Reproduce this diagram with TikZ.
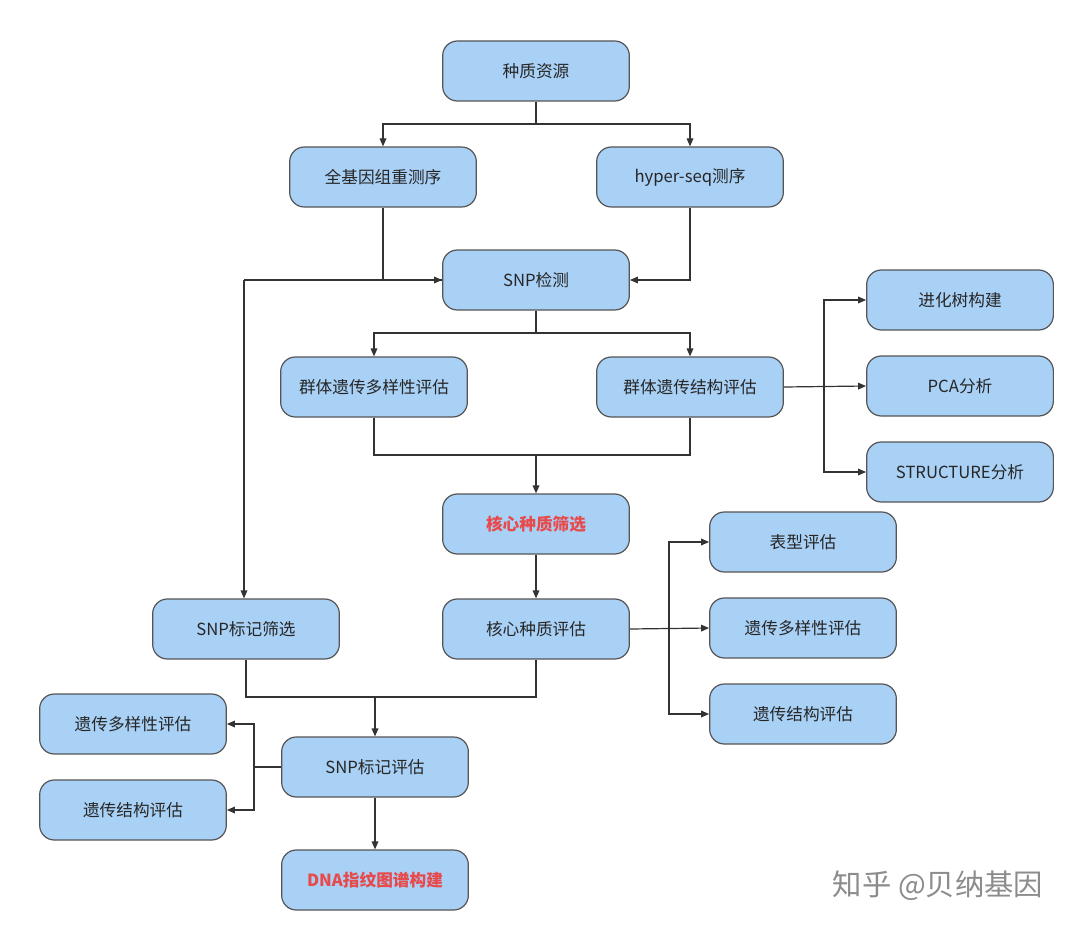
\documentclass[tikz,border=0pt]{standalone}
\usepackage{fontspec}
\setmainfont{Noto Sans CJK SC}
\usetikzlibrary{arrows.meta}
\definecolor{boxfill}{HTML}{A9D0F5}
\definecolor{boxline}{HTML}{555555}
\definecolor{redtxt}{HTML}{E8494A}
\begin{document}
\begin{tikzpicture}[x=0.75pt,y=-0.75pt,
  box/.style={draw=boxline,line width=0.9pt,fill=boxfill,rounded corners=11pt,minimum width=140pt,minimum height=45pt,inner sep=0pt,font=\fontsize{12.5}{14}\selectfont,text=black!85},
  hot/.style={text=redtxt,font=\fontsize{12.5}{14}\selectfont\bfseries},
  conn/.style={draw=black!80,line width=0.9pt},
  arr/.style={conn,-{Triangle[length=6pt,width=5pt]}}]
\useasboundingbox (0,0) rectangle (1080,938);
\fill[white] (0,0) rectangle (1080,938);
\node[box] (a) at (536,71) {种质资源};
\node[box] (b) at (383,177) {全基因组重测序};
\node[box] (c) at (690,177) {hyper-seq测序};
\node[box] (d) at (536,280) {SNP检测};
\node[box] (e) at (374,387) {群体遗传多样性评估};
\node[box] (f) at (690,387) {群体遗传结构评估};
\node[box] (g1) at (960,300) {进化树构建};
\node[box] (g2) at (960,386) {PCA分析};
\node[box] (g3) at (960,472) {STRUCTURE分析};
\node[box,hot] (h) at (536,524) {核心种质筛选};
\node[box] (i) at (536,629) {核心种质评估};
\node[box] (j1) at (803,542) {表型评估};
\node[box] (j2) at (803,628) {遗传多样性评估};
\node[box] (j3) at (803,714) {遗传结构评估};
\node[box] (k) at (246,629) {SNP标记筛选};
\node[box] (l) at (375,767) {SNP标记评估};
\node[box] (m1) at (133,724) {遗传多样性评估};
\node[box] (m2) at (133,810) {遗传结构评估};
\node[box,hot] (n) at (375,880) {DNA指纹图谱构建};
\node[text=black!45,font=\fontsize{22}{24}\selectfont] (w) at (938,886) {知乎 @贝纳基因};
% connectors
\coordinate (a1) at (536,124);
\draw[conn] (a.south) -- (a1);
\draw[arr] (a1) -| (b.north);
\draw[arr] (a1) -| (c.north);
\draw[arr] (b.south) |- (d.west);
\draw[arr] (c.south) |- (d.east);
\coordinate (s1) at (244,280);
\draw[conn] (s1) -- (d.west);
\draw[arr] (s1) -- (s1 |- k.north);
\coordinate (d1) at (536,333);
\draw[conn] (d.south) -- (d1);
\draw[arr] (d1) -| (e.north);
\draw[arr] (d1) -| (f.north);
\coordinate (f1) at (824,387);
\draw[arr] (f.east) -- (g2.west);
\draw[arr] (f1) |- (g1.west);
\draw[arr] (f1) |- (g3.west);
\coordinate (e1) at (536,455);
\draw[conn] (e.south) |- (e1) -| (f.south);
\draw[arr] (e1) -- (h.north);
\draw[arr] (h.south) -- (i.north);
\coordinate (i1) at (669,629);
\draw[arr] (i.east) -- (j2.west);
\draw[arr] (i1) |- (j1.west);
\draw[arr] (i1) |- (j3.west);
\coordinate (k1) at (375,697);
\draw[conn] (k.south) |- (k1) -| (i.south);
\draw[arr] (k1) -- (l.north);
\coordinate (l1) at (254,767);
\draw[conn] (l.west) -- (l1);
\draw[arr] (l1) |- (m1.east);
\draw[arr] (l1) |- (m2.east);
\draw[arr] (l.south) -- (n.north);
\end{tikzpicture}
\end{document}
